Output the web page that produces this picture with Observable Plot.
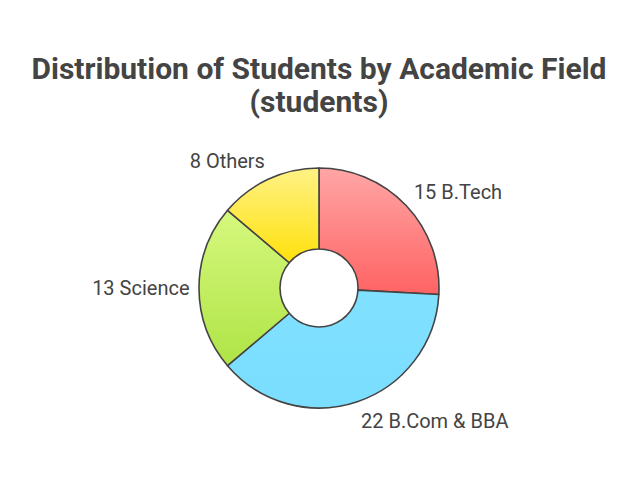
<!DOCTYPE html>
<html>
<head>
<meta charset="utf-8">
<script src="https://cdn.jsdelivr.net/npm/d3@7"></script>
<script src="https://cdn.jsdelivr.net/npm/@observablehq/plot@0.6"></script>
<style>
  html, body { margin: 0; padding: 0; background: #fff; }
  #title { font-family: Roboto, sans-serif; font-weight: 700; font-size: 30px; line-height: 33px; color: #444; text-align: center; padding-top: 52px; height: 68px; width: 638px; }
  #chart { width: 638px; }
</style>
</head>
<body>
<div id="title">Distribution of Students by Academic Field<br>(students)</div>
<div id="chart"></div>
<script>
const categories = ["B.Tech", "B.Com & BBA", "Science", "Others"];
const values = [15, 22, 13, 8];
const gradientTop = ["#ffa6a6", "#80e0ff", "#d6f87e", "#fff286"];
const gradientBottom = ["#ff6363", "#7bdeff", "#afe446", "#ffe10c"];

const outerR = 120, innerR = 39, labelRx = 130, labelRy = 140;

const pie = d3.pie().sort(null).value(d => d.value);
const slices = pie(categories.map((c, i) => ({category: c, value: values[i], i})));
const labels = slices.map(s => {
  const a = (s.startAngle + s.endAngle) / 2;
  return {text: `${s.data.value} ${s.data.category}`, x: labelRx * Math.sin(a), y: labelRy * Math.cos(a), right: Math.sin(a) >= 0};
});

const arcsMark = (index, scales) => {
  const cx = scales.x(0), cy = scales.y(0);
  const ro = scales.x(outerR) - cx, ri = scales.x(innerR) - cx;
  const g = d3.create("svg:g");
  const defs = g.append("defs");
  slices.forEach((s, i) => {
    const lg = defs.append("linearGradient").attr("id", "grad" + i).attr("x1", 0).attr("y1", 0).attr("x2", 0).attr("y2", 1);
    lg.append("stop").attr("offset", "0%").attr("stop-color", gradientTop[i]);
    lg.append("stop").attr("offset", "100%").attr("stop-color", gradientBottom[i]);
  });
  const arc = d3.arc().innerRadius(ri).outerRadius(ro);
  g.append("g").attr("transform", `translate(${cx},${cy})`)
    .selectAll("path").data(slices).join("path")
    .attr("d", arc)
    .attr("fill", (d, i) => `url(#grad${i})`)
    .attr("stroke", "#444")
    .attr("stroke-width", 1.6)
    .attr("stroke-linejoin", "round");
  return g.node();
};

const plot = Plot.plot({
  width: 638,
  height: 362,
  margin: 0,
  x: {domain: [-319, 319], axis: null},
  y: {domain: [-194, 168], axis: null},
  style: {fontFamily: "Roboto, sans-serif", background: "#fff"},
  marks: [
    arcsMark,
    Plot.text(labels.filter(d => d.right), {x: "x", y: "y", text: "text", textAnchor: "start", fontSize: 20, fill: "#444"}),
    Plot.text(labels.filter(d => !d.right), {x: "x", y: "y", text: "text", textAnchor: "end", fontSize: 20, fill: "#444"})
  ]
});
document.getElementById("chart").appendChild(plot);
</script>
</body>
</html>
